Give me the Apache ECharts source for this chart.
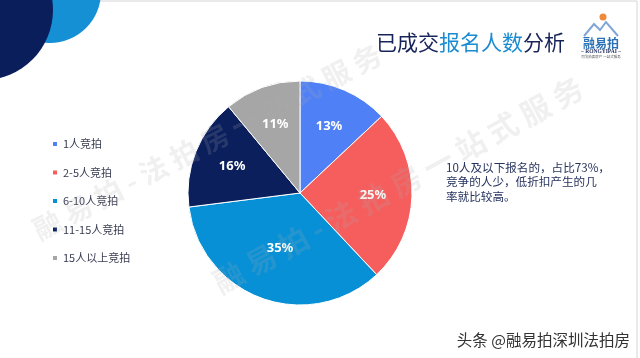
<!DOCTYPE html>
<html><head><meta charset="utf-8">
<script src="https://cdn.jsdelivr.net/npm/echarts@6/dist/echarts.min.js"></script>
<style>html,body{margin:0;padding:0;background:#fff}#c{width:640px;height:358px}</style>
</head><body><div id="c"></div>
<script>
const categories = ['1人竞拍', '2-5人竞拍', '6-10人竞拍', '11-15人竞拍', '15人以上竞拍'];
const shares = [13, 25, 35, 16, 11];
const sliceColors = ['#4F80F6', '#F65E5E', '#0790D6', '#0B1F5D', '#A6A6A6'];
const noteLines = ['10人及以下报名的，占比73%，', '竞争的人少，低折扣产生的几', '率就比较高。'];
const watermark = '融 易 拍 - 法 拍 房 一 站 式 服 务';

const chart = echarts.init(document.getElementById('c'), null, {renderer: 'canvas'});
const font = '"Noto Sans CJK SC","Noto Sans",sans-serif';

const visibleData = categories.map((n, i) => ({
  name: n, value: shares[i],
  itemStyle: {color: sliceColors[i]},
  label: {show: i === 2}
}));
const labelData = categories.map((n, i) => ({
  name: n, value: shares[i],
  label: {show: i !== 2}
}));

chart.setOption({
  animation: false,
  backgroundColor: '#fff',
  legend: {
    orient: 'vertical', left: 46, top: 132,
    itemWidth: 6, itemHeight: 6, itemGap: 14.5, icon: 'rect',
    textStyle: {fontSize: 11, color: '#3A3E52', fontFamily: font, lineHeight: 14, padding: [0, 0, 0, 0]},
    data: categories.map((n, i) => ({name: n, itemStyle: {color: sliceColors[i]}}))
  },
  series: [{
    type: 'pie', name: 'visible', center: [300, 193], radius: [0, 112],
    startAngle: 90, clockwise: true,
    itemStyle: {borderColor: '#fff', borderWidth: 1},
    label: {position: 'inside', formatter: '{c}%', color: '#fff', fontSize: 13, fontWeight: 'bold', fontFamily: '"Noto Sans",sans-serif'},
    labelLine: {show: false},
    emphasis: {disabled: true},
    data: visibleData, z: 2
  }, {
    type: 'pie', name: 'labels', center: [300, 193], radius: [28, 112],
    startAngle: 90, clockwise: true, silent: true, legendHoverLink: false,
    itemStyle: {color: 'rgba(0,0,0,0)', borderWidth: 0},
    label: {position: 'inside', formatter: '{c}%', color: '#fff', fontSize: 13, fontWeight: 'bold', fontFamily: '"Noto Sans",sans-serif'},
    labelLine: {show: false},
    emphasis: {disabled: true},
    data: labelData, z: 3
  }],
  graphic: [
    {type: 'rect', shape: {x: -2, y: 1, width: 639, height: 400}, style: {fill: 'none', stroke: '#D4D4D4', lineWidth: 1}, z: 1},
    {type: 'circle', shape: {cx: 50, cy: -8, r: 51}, style: {fill: '#1590D5'}, z: 2},
    {type: 'circle', shape: {cx: -17, cy: 10, r: 70}, style: {fill: '#0B1E5C'}, z: 3},
    {type: 'text', x: 565, y: 42, z: 5, style: {
      text: '{a|已成交}{b|报名人数}{a|分析}', align: 'right', verticalAlign: 'middle',
      rich: {a: {fontSize: 21, fill: '#17245A', fontFamily: font}, b: {fontSize: 21, fill: '#1B8CD0', fontFamily: font}}
    }},
    // logo
    {type: 'polyline', shape: {points: [[584, 36], [594, 24], [600, 30], [606, 22], [618, 36]]}, style: {stroke: '#7FA6D6', lineWidth: 2, fill: 'none'}, z: 5},
    {type: 'circle', shape: {cx: 603, cy: 17, r: 3.5}, style: {fill: '#EE8A3A'}, z: 5},
    {type: 'text', x: 601, y: 43, z: 5, style: {text: '融易拍', fontSize: 12, fontWeight: 'bold', fill: '#2A72B8', align: 'center', verticalAlign: 'middle', fontFamily: font}},
    {type: 'text', x: 601, y: 52, z: 5, style: {text: '– RONGYIPAI –', fontSize: 5.5, fontWeight: 'bold', fill: '#1E2A5A', align: 'center', verticalAlign: 'middle', fontFamily: '"Liberation Serif",serif'}},
    {type: 'text', x: 601, y: 57, z: 5, style: {text: '司法拍卖房产 一站式服务', fontSize: 3.5, fill: '#555', align: 'center', verticalAlign: 'middle', fontFamily: font}},
    // note
    {type: 'text', x: 446, y: 160, z: 5, style: {text: noteLines.join('\n'), fontSize: 11.6, lineHeight: 14.5, fill: '#27335F', fontFamily: font}},
    // footer
    {type: 'text', x: 630, y: 340, z: 20, style: {text: '头条 @融易拍深圳法拍房', fontSize: 15.5, fill: '#333', align: 'right', verticalAlign: 'middle', fontFamily: font, stroke: '#fff', lineWidth: 2}},
    // watermarks
    {type: 'text', x: 207, y: 142, rotation: 0.48, z: 50, style: {text: watermark, fontSize: 28, fontWeight: 'bold', fill: 'rgba(170,170,170,0.18)', align: 'center', verticalAlign: 'middle', fontFamily: font}},
    {type: 'text', x: 398, y: 185, rotation: 0.5, z: 50, style: {text: watermark, fontSize: 30, fontWeight: 'bold', fill: 'rgba(170,170,170,0.18)', align: 'center', verticalAlign: 'middle', fontFamily: font}}
  ]
});
</script></body></html>
